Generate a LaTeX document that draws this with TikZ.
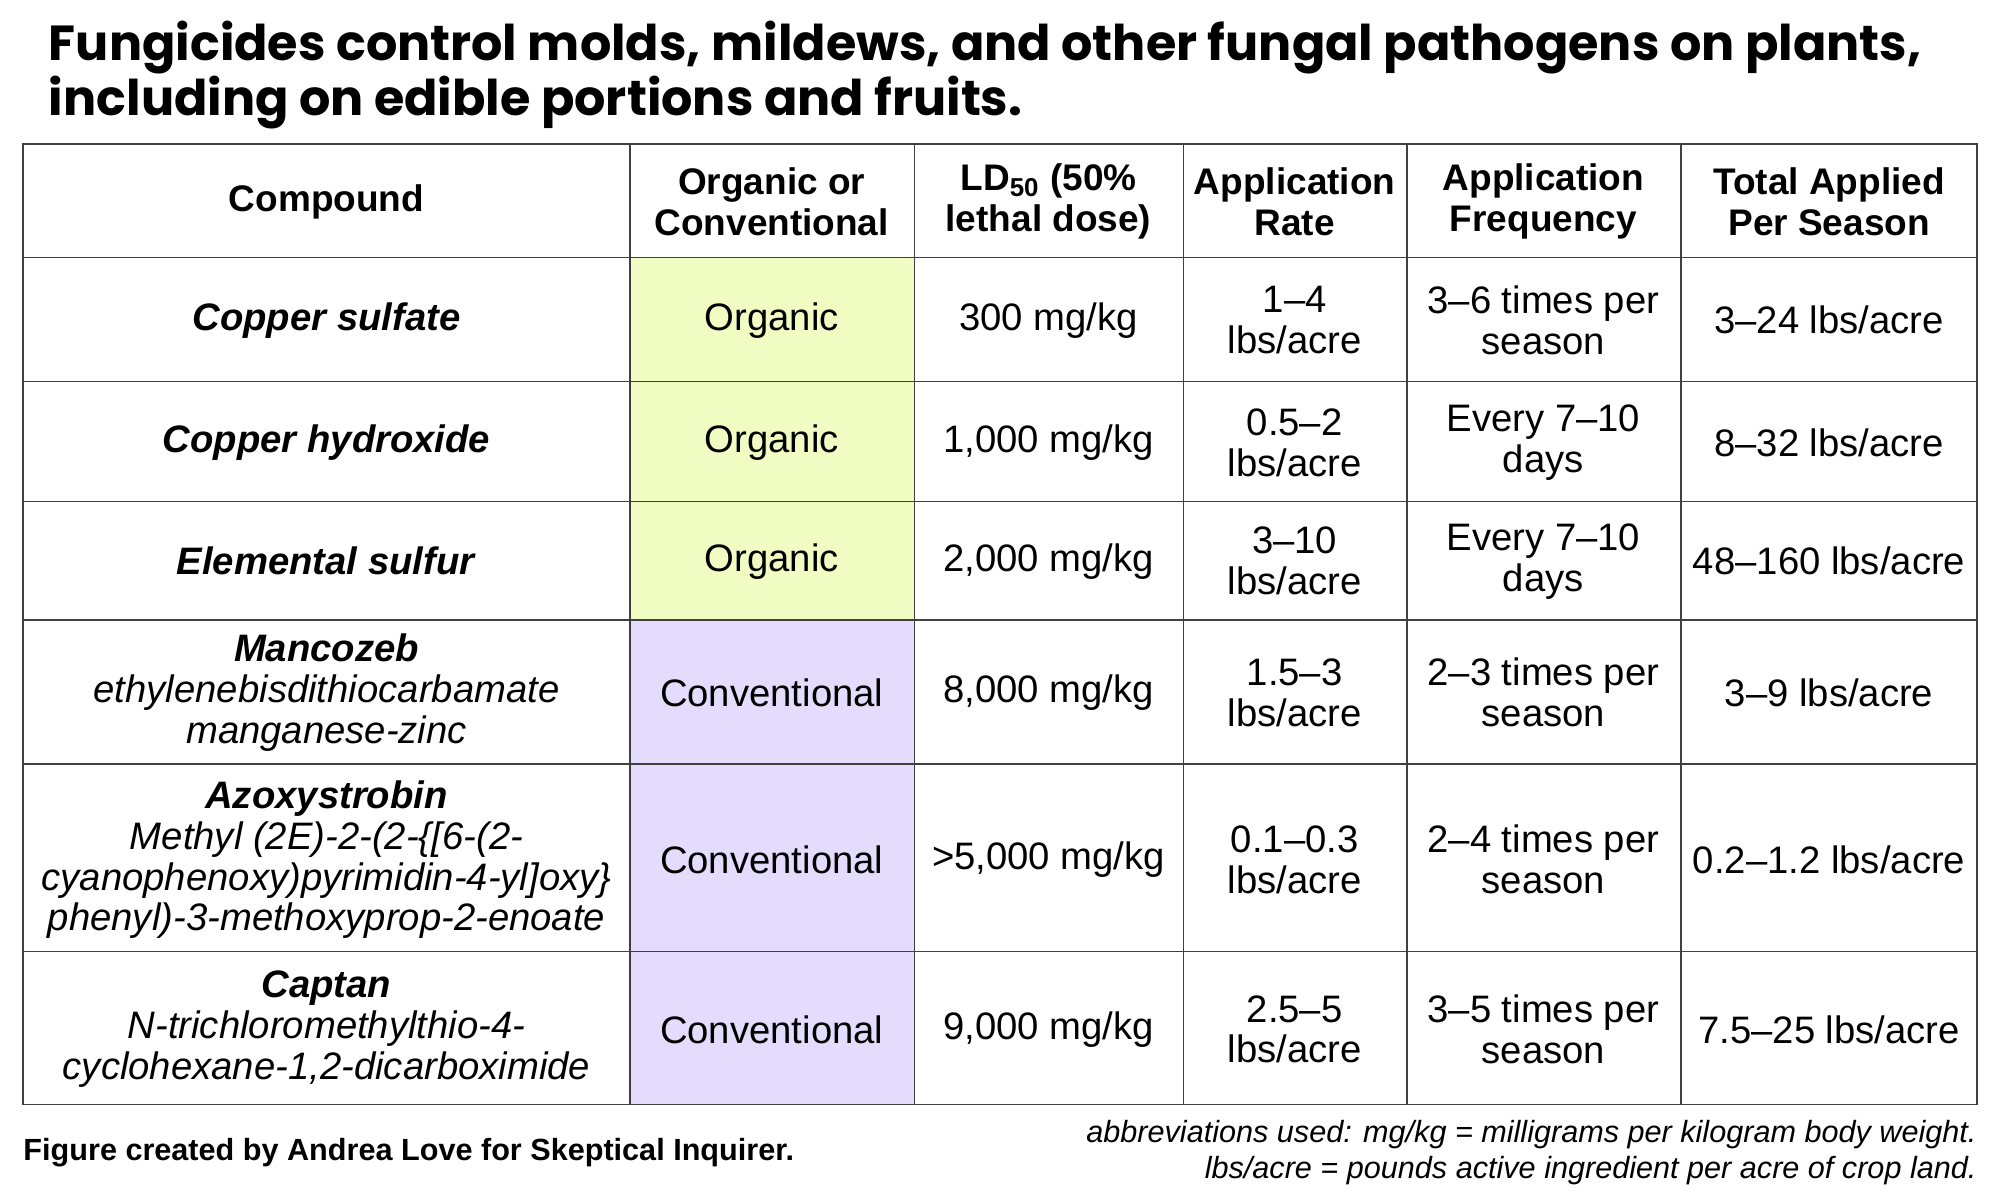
\documentclass[tikz,border=0pt]{standalone}
\usepackage{fontspec}
\setmainfont{Liberation Sans}
\newfontfamily\titlefont{Poppins}
\definecolor{orgc}{HTML}{F1FCC3}
\definecolor{conc}{HTML}{E5DBFC}
\tikzset{cell/.style={align=center,font=\fontsize{15}{16}\selectfont,inner sep=0pt},
 hcell/.style={cell,font=\fontsize{14.5}{16}\selectfont\bfseries},
 grid/.style={draw=black!75,line width=0.6pt}}
\begin{document}
\begin{tikzpicture}[x=0.5pt,y=-0.5pt]
\useasboundingbox (0,0) rectangle (1568,941);
\fill[orgc] (494,202) rectangle (717,486);
\fill[conc] (494,486) rectangle (717,866);
\node[anchor=north west,align=left,inner sep=0pt,font=\titlefont\fontsize{19.3}{21.5}\selectfont\bfseries] (title) at (38,16) {Fungicides control molds, mildews, and other fungal pathogens on plants,\\including on edible portions and fruits.};
\draw[grid] (18,113) rectangle (1550,866);
\foreach \x in {494,717,928,1103,1318} \draw[grid] (\x,113) -- (\x,866);
\foreach \y in {202,299,393,486,599,746} \draw[grid] (18,\y) -- (1550,\y);
% header
\node[hcell] (h1) at (256,158) {Compound};
\node[hcell] (h2) at (605,158) {Organic or\\Conventional};
\node[hcell] (h3) at (822,158) {LD\textsubscript{50} (50\%\\lethal dose)};
\node[hcell] (h4) at (1015,158) {Application\\Rate};
\node[hcell] (h5) at (1210,158) {Application\\Frequency};
\node[hcell] (h6) at (1434,158) {Total Applied\\Per Season};
% rows
\newcommand{\tabrow}[7]{%
 \node[cell] at (256,#1) {#2};
 \node[cell] at (605,#1) {#3};
 \node[cell] at (822,#1) {#4};
 \node[cell] at (1015,#1) {#5};
 \node[cell] at (1210,#1) {#6};
 \node[cell] at (1434,#1) {#7};}
\tabrow{251}{\textbf{\textit{Copper sulfate}}}{Organic}{300 mg/kg}{1–4\\lbs/acre}{3–6 times per\\season}{3–24 lbs/acre}
\tabrow{347}{\textbf{\textit{Copper hydroxide}}}{Organic}{1,000 mg/kg}{0.5–2\\lbs/acre}{Every 7–10\\days}{8–32 lbs/acre}
\tabrow{440}{\textbf{\textit{Elemental sulfur}}}{Organic}{2,000 mg/kg}{3–10\\lbs/acre}{Every 7–10\\days}{48–160 lbs/acre}
\tabrow{543}{\textbf{\textit{Mancozeb}}\\\textit{ethylenebisdithiocarbamate}\\\textit{manganese-zinc}}{Conventional}{8,000 mg/kg}{1.5–3\\lbs/acre}{2–3 times per\\season}{3–9 lbs/acre}
\tabrow{674}{\textbf{\textit{Azoxystrobin}}\\\textit{Methyl (2E)-2-(2-\{[6-(2-}\\\textit{cyanophenoxy)pyrimidin-4-yl]oxy\}}\\\textit{phenyl)-3-methoxyprop-2-enoate}}{Conventional}{>5,000 mg/kg}{0.1–0.3\\lbs/acre}{2–4 times per\\season}{0.2–1.2 lbs/acre}
\tabrow{807}{\textbf{\textit{Captan}}\\\textit{N-trichloromethylthio-4-}\\\textit{cyclohexane-1,2-dicarboximide}}{Conventional}{9,000 mg/kg}{2.5–5\\lbs/acre}{3–5 times per\\season}{7.5–25 lbs/acre}
\node[anchor=west,inner sep=0pt,font=\fontsize{12}{13}\selectfont\bfseries] (credit) at (18,904) {Figure created by Andrea Love for Skeptical Inquirer.};
\node[anchor=north east,align=right,inner sep=0pt,font=\fontsize{12}{14}\selectfont\itshape] (abbr) at (1550,878) {abbreviations used: mg/kg = milligrams per kilogram body weight.\\lbs/acre = pounds active ingredient per acre of crop land.};
\end{tikzpicture}
\end{document}
